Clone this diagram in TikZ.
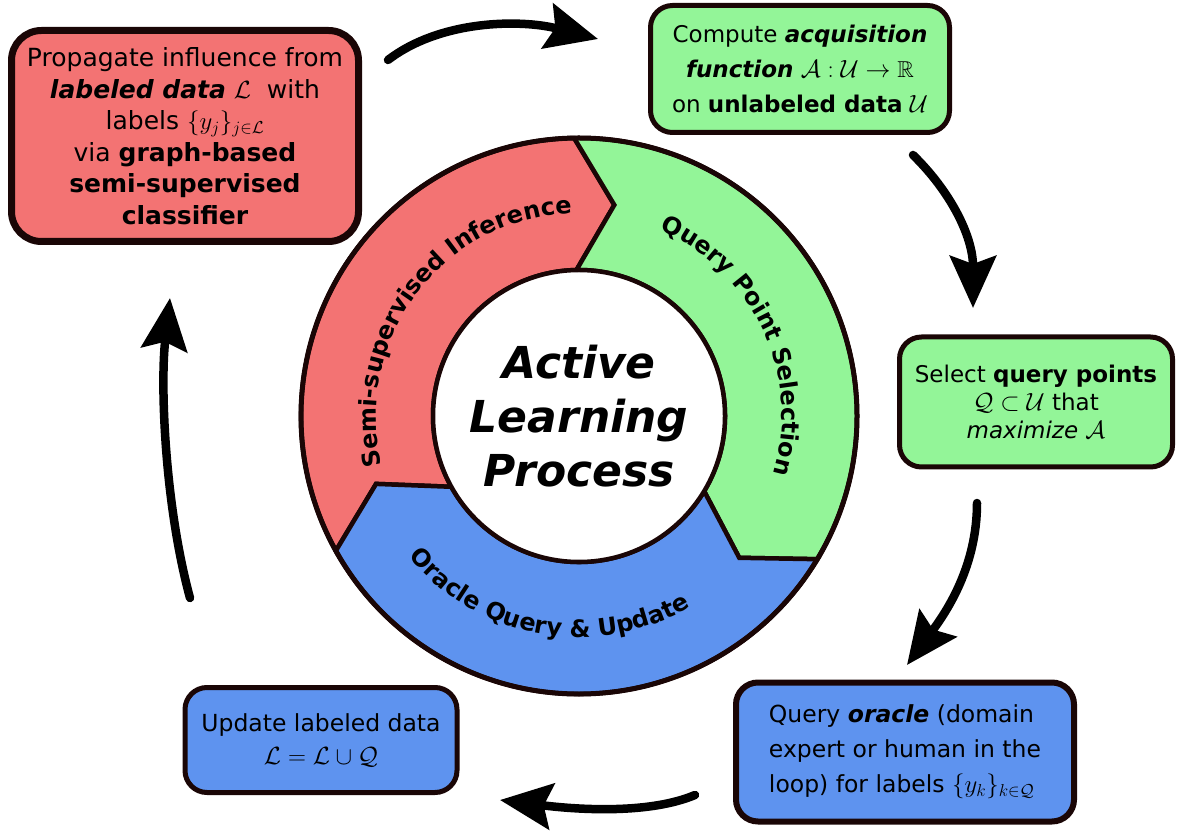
\documentclass[tikz,border=0pt]{standalone}
\usepackage{fontspec}
\setmainfont{DejaVu Sans}
\usepackage{amsmath,amssymb}
\usetikzlibrary{arrows.meta,decorations.text,calc}
\definecolor{redf}{HTML}{F37373}
\definecolor{greenf}{HTML}{93F598}
\definecolor{bluef}{HTML}{5E93EF}
\definecolor{edge}{HTML}{1A0606}
\begin{document}
\begin{tikzpicture}[x=1pt,y=1pt,
  box/.style={draw=edge, rounded corners=22pt, align=center, inner sep=0pt},
  flow/.style={line width=8.5pt, line cap=round, -{Stealth[length=52pt,width=46pt,inset=8pt]}},
  seg/.style={draw=edge, line width=4.5pt, line join=miter}]
\useasboundingbox (0,0) rectangle (1180,836);
\coordinate (C) at (579,420);

% ring segments
\begin{scope}[shift={(579,420)}]
\path[seg, fill=redf] (91:278) -- (80.5:214) -- (91:146)
  arc[start angle=91, end angle=209, radius=146] -- (198.5:214) -- (209:278)
  arc[start angle=209, end angle=91, radius=278] -- cycle;
\path[seg, fill=greenf] (-31:278) -- (-41.5:214) -- (-31:146)
  arc[start angle=-31, end angle=91, radius=146] -- (80.5:214) -- (91:278)
  arc[start angle=91, end angle=-31, radius=278] -- cycle;
\path[seg, fill=bluef] (209:278) -- (198.5:214) -- (209:146)
  arc[start angle=209, end angle=329, radius=146] -- (318.5:214) -- (329:278)
  arc[start angle=329, end angle=209, radius=278] -- cycle;
\draw[edge, line width=5pt] (0,0) circle[radius=278];
\path[decorate, decoration={text along path, text align=center,
  text={|\fontsize{24}{28}\selectfont\bfseries|Semi-supervised Inference}}]
  (207:203) arc[start angle=207, end angle=79, radius=203];
\path[decorate, decoration={text along path, text align=center,
  text={|\fontsize{24}{28}\selectfont\bfseries|Query Point Selection}}]
  (86:203) arc[start angle=86, end angle=-36, radius=203];
\path[decorate, decoration={text along path, text align=center,
  text={|\fontsize{24}{28}\selectfont\bfseries|Oracle Query {\&} Update}}]
  (198:221) arc[start angle=198, end angle=322, radius=221];
\end{scope}

\node[circle, draw=edge, fill=white, line width=4.5pt, minimum size=292pt, inner sep=0pt,
  align=center, font=\fontsize{44}{54}\selectfont\bfseries\itshape] (core) at (C)
  {Active\\Learning\\Process};

% boxes
\node[box, fill=redf, line width=7pt, rounded corners=30pt, minimum width=347pt, minimum height=211pt,
  font=\fontsize{25}{31.5}\selectfont] (infer) at (185,700)
  {Propagate influence from\\ \textbf{\textit{labeled data}} $\mathcal{L}$\ \ with\\
   labels $\{y_j\}_{j\in\mathcal{L}}$\\ via \textbf{graph-based}\\ \textbf{semi-supervised}\\ \textbf{classifier}};
\node[box, fill=greenf, line width=5pt, minimum width=299pt, minimum height=127pt,
  font=\fontsize{23}{35}\selectfont] (acq) at (800,767)
  {Compute \textbf{\textit{acquisition}}\\ \textbf{\textit{function}} $\mathcal{A}:\mathcal{U}\rightarrow\mathbb{R}$\\
   on \textbf{unlabeled data} $\mathcal{U}$};
\node[box, fill=greenf, line width=5pt, minimum width=273pt, minimum height=130pt,
  font=\fontsize{23}{28}\selectfont] (sel) at (1036,434)
  {Select \textbf{query points}\\ $\mathcal{Q}\subset\mathcal{U}$ that\\ \textit{maximize} $\mathcal{A}$};
\node[box, fill=bluef, line width=6pt, minimum width=338pt, minimum height=139pt, align=left,
  font=\fontsize{23.5}{35}\selectfont] (oracle) at (905,84)
  {Query \textbf{\textit{oracle}} (domain\\ expert or human in the\\ loop) for labels $\{y_k\}_{k\in\mathcal{Q}}$};
\node[box, fill=bluef, line width=5pt, minimum width=272pt, minimum height=105pt,
  font=\fontsize{23.5}{33}\selectfont] (upd) at (321,96)
  {Update labeled data\\ $\mathcal{L}=\mathcal{L}\cup\mathcal{Q}$};

% cycle arrows
\coordinate (a1s) at (388,776); \coordinate (a1e) at (598,797);
\coordinate (a2s) at (913,681); \coordinate (a2e) at (973,528);
\coordinate (a3s) at (977,333); \coordinate (a3e) at (907,171);
\coordinate (a4s) at (695,41);  \coordinate (a4e) at (500,36);
\coordinate (a5s) at (190,238); \coordinate (a5e) at (170,538);
\draw[flow] (a1s) .. controls (440,816) and (520,817) .. (a1e);
\draw[flow] (a2s) .. controls (950,645) and (973,600) .. (a2e);
\draw[flow] (a3s) .. controls (977,270) and (947,225) .. (a3e);
\draw[flow] (a4s) .. controls (650,22) and (580,26) .. (a4e);
\draw[flow] (a5s) .. controls (165,330) and (160,450) .. (a5e);
\end{tikzpicture}
\end{document}
